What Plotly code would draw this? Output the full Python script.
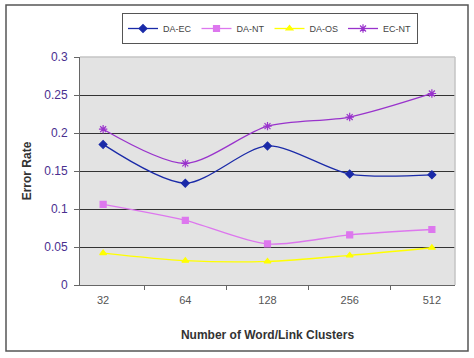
import plotly.graph_objects as go

clusters = ["32", "64", "128", "256", "512"]
da_ec = [0.185, 0.134, 0.183, 0.146, 0.145]
da_nt = [0.106, 0.085, 0.054, 0.066, 0.073]
da_os = [0.042, 0.032, 0.031, 0.039, 0.049]
ec_nt = [0.205, 0.160, 0.209, 0.221, 0.252]

series = [
    ("DA-EC", da_ec, "#1a2aa8", "diamond", 6, 1.3),
    ("DA-NT", da_nt, "#dd77ee", "square", 6, 1.3),
    ("DA-OS", da_os, "#ffff00", "triangle-up", 6, 1.3),
    ("EC-NT", ec_nt, "#9933cc", "asterisk-open", 7, 1.3),
]

fig = go.Figure()
for name, vals, col, sym, sz, lw in series:
    fig.add_trace(go.Scatter(
        x=clusters, y=vals, name=name, mode="lines+markers",
        line=dict(color=col, width=lw, shape="spline", smoothing=0.8),
        marker=dict(symbol=sym, size=sz, color=col, line=dict(color=col, width=1.2)),
    ))

L, R, T, B = 80, 19, 57, 73
W, H = 474, 358
pw, ph = W - L - R, H - T - B

fig.update_layout(
    width=W, height=H,
    margin=dict(l=L, r=R, t=T, b=B),
    paper_bgcolor="white",
    plot_bgcolor="#e3e3e3",
    font=dict(family="Liberation Sans, Arial, sans-serif", size=11, color="#333"),
    showlegend=True,
    legend=dict(
        orientation="h", x=(270 - L) / pw, xanchor="center",
        y=1 + (T - 13) / ph, yanchor="top",
        bordercolor="#555", borderwidth=1, bgcolor="white",
        font=dict(size=9, color="#444"),
        itemwidth=30, tracegroupgap=0,
    ),
    xaxis=dict(
        type="category",
        showgrid=False,
        showline=True, linecolor="#666", linewidth=1,
        ticks="outside", tickson="boundaries", ticklen=4, tickcolor="#666",
        ticklabelstandoff=5,
        tickfont=dict(size=11, color="#555"),
        title=dict(text="<b>Number of Word/Link Clusters</b>",
                   font=dict(size=12, color="#333"), standoff=25),
    ),
    yaxis=dict(
        range=[0, 0.3], dtick=0.05,
        tickformat="~g",
        showgrid=True, gridcolor="#333", gridwidth=1,
        showline=True, linecolor="#666", linewidth=1,
        ticks="outside", ticklen=5, tickcolor="#666",
        ticklabelstandoff=4,
        tickfont=dict(size=12, color="#4a2f8f"),
        title=dict(text="<b>Error Rate</b>", font=dict(size=12, color="#333"), standoff=10),
        zeroline=False,
    ),
    shapes=[
        dict(type="rect", xref="paper", yref="paper",
             x0=(6 - L) / pw, x1=(468 - L) / pw,
             y0=1 - (351 - T) / ph, y1=1 + (T - 5) / ph,
             line=dict(color="#555", width=1.5), fillcolor="rgba(0,0,0,0)", layer="below"),
        dict(type="line", xref="paper", yref="paper", x0=0, x1=1, y0=1, y1=1,
             line=dict(color="#c4c4c4", width=1.5)),
        dict(type="line", xref="paper", yref="paper", x0=1, x1=1, y0=0, y1=1,
             line=dict(color="#c4c4c4", width=1.5)),
    ],
)

fig.write_html("out.html", post_script="document.body.style.margin='0';",
               config={"displayModeBar": False})
